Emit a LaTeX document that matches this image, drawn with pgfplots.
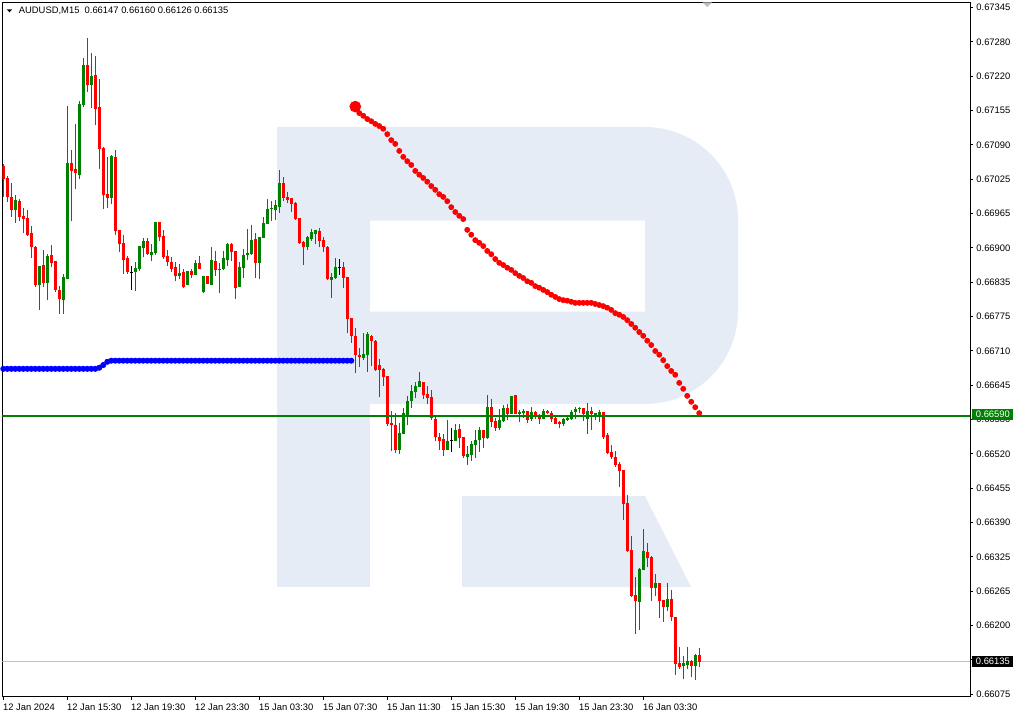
\documentclass[border=0pt]{standalone}
\usepackage{pgfplots}
\usepackage{pgfplotstable}
\pgfplotsset{compat=1.18}
\usepackage{fontspec}
\setmainfont{Liberation Sans}
\definecolor{cgreen}{RGB}{0,128,0}
\definecolor{cred}{RGB}{255,0,0}
\definecolor{cblue}{RGB}{0,0,255}
\definecolor{wm}{RGB}{230,236,245}
\definecolor{cgray}{RGB}{192,192,192}

\pgfplotstableread{
k O H L C
3 0.66971 0.66998 0.66947 0.66989
9 0.66832 0.66867 0.66786 0.66867
11 0.66836 0.66889 0.66804 0.66886
15 0.66804 0.66852 0.66778 0.66847
16 0.66843 0.67163 0.66843 0.67058
19 0.67036 0.67172 0.67028 0.67167
20 0.67165 0.67252 0.67161 0.67239
22 0.67202 0.67261 0.67159 0.67219
27 0.66993 0.67073 0.66982 0.67071
33 0.66856 0.66875 0.66821 0.66863
34 0.66862 0.66904 0.66858 0.66904
35 0.66900 0.66919 0.66884 0.66913
37 0.66888 0.66908 0.66876 0.66893
38 0.66891 0.66949 0.66888 0.66949
44 0.66849 0.66871 0.66843 0.66854
46 0.66832 0.66858 0.66832 0.66858
48 0.66851 0.66878 0.66851 0.66873
50 0.66819 0.66849 0.66817 0.66849
52 0.66832 0.66902 0.66832 0.66878
54 0.66860 0.66873 0.66817 0.66862
55 0.66862 0.66895 0.66860 0.66882
56 0.66878 0.66910 0.66867 0.66908
59 0.66828 0.66875 0.66828 0.66865
60 0.66863 0.66899 0.66845 0.66888
61 0.66888 0.66936 0.66878 0.66891
62 0.66889 0.66943 0.66888 0.66915
64 0.66873 0.66921 0.66843 0.66921
65 0.66919 0.66958 0.66919 0.66947
66 0.66945 0.66991 0.66945 0.66973
67 0.66972 0.66987 0.66950 0.66974
68 0.66971 0.66989 0.66952 0.66980
69 0.66976 0.67045 0.66965 0.67021
76 0.66902 0.66923 0.66897 0.66921
77 0.66917 0.66936 0.66913 0.66930
78 0.66926 0.66934 0.66908 0.66934
82 0.66841 0.66854 0.66808 0.66847
83 0.66845 0.66882 0.66843 0.66865
90 0.66697 0.66743 0.66693 0.66704
91 0.66703 0.66745 0.66671 0.66741
99 0.66527 0.66577 0.66520 0.66558
100 0.66557 0.66605 0.66557 0.66595
101 0.66592 0.66627 0.66573 0.66618
102 0.66618 0.66647 0.66605 0.66636
103 0.66634 0.66653 0.66623 0.66645
104 0.66643 0.66671 0.66643 0.66655
111 0.66527 0.66582 0.66527 0.66544
113 0.66544 0.66575 0.66544 0.66564
116 0.66514 0.66534 0.66499 0.66520
117 0.66518 0.66544 0.66507 0.66538
118 0.66536 0.66564 0.66512 0.66545
119 0.66545 0.66569 0.66523 0.66564
121 0.66549 0.66629 0.66547 0.66606
124 0.66568 0.66603 0.66564 0.66582
125 0.66581 0.66610 0.66579 0.66605
127 0.66593 0.66627 0.66593 0.66627
129 0.66593 0.66601 0.66579 0.66597
130 0.66595 0.66603 0.66586 0.66599
132 0.66584 0.66606 0.66581 0.66597
135 0.66584 0.66603 0.66584 0.66599
140 0.66575 0.66586 0.66571 0.66584
141 0.66582 0.66588 0.66581 0.66586
142 0.66584 0.66601 0.66582 0.66597
143 0.66597 0.66606 0.66584 0.66603
144 0.66603 0.66606 0.66595 0.66605
146 0.66584 0.66614 0.66557 0.66599
148 0.66592 0.66595 0.66582 0.66595
149 0.66592 0.66601 0.66579 0.66597
159 0.66246 0.66309 0.66194 0.66307
160 0.66305 0.66381 0.66305 0.66340
163 0.66272 0.66298 0.66257 0.66281
166 0.66237 0.66281 0.66229 0.66251
170 0.66127 0.66146 0.66103 0.66133
171 0.66129 0.66163 0.66122 0.66137
173 0.66127 0.66150 0.66101 0.66148
}\upc

\pgfplotstableread{
k O H L C
0 0.67052 0.67056 0.66995 0.67028
1 0.67030 0.67034 0.66986 0.66995
2 0.66995 0.67021 0.66958 0.66971
4 0.66987 0.66991 0.66950 0.66958
5 0.66960 0.66974 0.66928 0.66954
6 0.66956 0.66971 0.66923 0.66925
7 0.66928 0.66941 0.66882 0.66902
8 0.66902 0.66904 0.66828 0.66832
10 0.66869 0.66897 0.66828 0.66836
12 0.66888 0.66906 0.66865 0.66873
13 0.66876 0.66876 0.66819 0.66823
14 0.66823 0.66830 0.66778 0.66806
17 0.67058 0.67082 0.66950 0.67043
18 0.67047 0.67130 0.67010 0.67039
21 0.67239 0.67289 0.67189 0.67202
23 0.67220 0.67256 0.67128 0.67158
24 0.67161 0.67213 0.67047 0.67084
25 0.67085 0.67087 0.66973 0.66998
26 0.67000 0.67069 0.66974 0.66993
28 0.67069 0.67082 0.66925 0.66932
29 0.66934 0.66934 0.66893 0.66908
30 0.66910 0.66925 0.66852 0.66878
31 0.66882 0.66886 0.66852 0.66856
36 0.66913 0.66919 0.66888 0.66889
39 0.66949 0.66949 0.66913 0.66921
40 0.66923 0.66934 0.66880 0.66884
41 0.66886 0.66897 0.66867 0.66875
42 0.66875 0.66884 0.66856 0.66862
43 0.66865 0.66875 0.66839 0.66849
45 0.66856 0.66862 0.66826 0.66828
47 0.66858 0.66862 0.66845 0.66851
49 0.66873 0.66886 0.66862 0.66862
51 0.66849 0.66849 0.66834 0.66834
53 0.66876 0.66895 0.66849 0.66860
57 0.66908 0.66910 0.66876 0.66893
58 0.66895 0.66895 0.66806 0.66826
63 0.66917 0.66928 0.66845 0.66873
70 0.67021 0.67032 0.66987 0.66993
71 0.66995 0.67004 0.66984 0.66989
72 0.66993 0.66993 0.66967 0.66982
73 0.66984 0.66986 0.66952 0.66954
74 0.66956 0.66956 0.66908 0.66910
75 0.66912 0.66913 0.66869 0.66902
79 0.66932 0.66938 0.66902 0.66913
80 0.66915 0.66921 0.66893 0.66902
81 0.66902 0.66904 0.66841 0.66843
85 0.66865 0.66875 0.66826 0.66845
86 0.66847 0.66847 0.66743 0.66769
87 0.66771 0.66771 0.66725 0.66738
88 0.66738 0.66753 0.66669 0.66703
89 0.66703 0.66716 0.66680 0.66699
92 0.66738 0.66740 0.66682 0.66728
93 0.66728 0.66730 0.66673 0.66675
94 0.66684 0.66695 0.66625 0.66675
95 0.66677 0.66679 0.66645 0.66662
96 0.66664 0.66664 0.66571 0.66575
97 0.66577 0.66599 0.66525 0.66573
98 0.66573 0.66595 0.66521 0.66527
105 0.66653 0.66653 0.66621 0.66629
106 0.66630 0.66645 0.66612 0.66623
107 0.66625 0.66638 0.66582 0.66586
108 0.66584 0.66590 0.66544 0.66551
109 0.66551 0.66558 0.66527 0.66544
110 0.66547 0.66557 0.66516 0.66527
114 0.66566 0.66575 0.66531 0.66549
115 0.66551 0.66551 0.66512 0.66516
120 0.66564 0.66564 0.66531 0.66549
122 0.66606 0.66621 0.66569 0.66579
123 0.66581 0.66586 0.66562 0.66568
126 0.66605 0.66612 0.66582 0.66593
128 0.66629 0.66629 0.66593 0.66593
131 0.66599 0.66599 0.66577 0.66582
133 0.66597 0.66599 0.66584 0.66588
134 0.66590 0.66593 0.66575 0.66584
136 0.66599 0.66601 0.66593 0.66595
137 0.66595 0.66599 0.66579 0.66584
138 0.66586 0.66588 0.66575 0.66575
139 0.66579 0.66581 0.66568 0.66575
145 0.66605 0.66605 0.66581 0.66593
147 0.66599 0.66606 0.66564 0.66593
150 0.66597 0.66597 0.66547 0.66551
151 0.66555 0.66558 0.66520 0.66521
152 0.66523 0.66536 0.66510 0.66514
153 0.66514 0.66525 0.66495 0.66499
154 0.66501 0.66505 0.66458 0.66488
155 0.66490 0.66490 0.66397 0.66427
156 0.66429 0.66444 0.66338 0.66340
157 0.66342 0.66368 0.66255 0.66257
158 0.66259 0.66292 0.66187 0.66248
161 0.66338 0.66355 0.66310 0.66327
162 0.66329 0.66331 0.66248 0.66272
164 0.66281 0.66281 0.66216 0.66248
165 0.66249 0.66249 0.66209 0.66237
167 0.66251 0.66268 0.66211 0.66218
168 0.66218 0.66218 0.66111 0.66131
169 0.66133 0.66163 0.66122 0.66126
172 0.66137 0.66139 0.66107 0.66127
174 0.66147 0.66160 0.66126 0.66135
}\downc

\pgfplotstableread{
k O H L C
32 0.66857 0.66867 0.66823 0.66856
84 0.66866 0.66880 0.66851 0.66865
112 0.66545 0.66568 0.66523 0.66544
}\dojic

\pgfplotstableread{
k P
89 0.67150
90 0.67145
91 0.67139
92 0.67135
93 0.67130
94 0.67126
95 0.67121
96 0.67111
97 0.67100
98 0.67093
99 0.67080
100 0.67069
101 0.67061
102 0.67054
103 0.67043
104 0.67036
105 0.67030
106 0.67023
107 0.67015
108 0.67008
109 0.67000
110 0.66995
111 0.66987
112 0.66976
113 0.66967
114 0.66960
115 0.66954
116 0.66934
117 0.66925
118 0.66915
119 0.66910
120 0.66904
121 0.66895
122 0.66889
123 0.66880
124 0.66873
125 0.66869
126 0.66864
127 0.66860
128 0.66854
129 0.66849
130 0.66845
131 0.66839
132 0.66836
133 0.66830
134 0.66827
135 0.66823
136 0.66819
137 0.66814
138 0.66810
139 0.66806
140 0.66804
141 0.66803
142 0.66801
143 0.66799
144 0.66799
145 0.66799
146 0.66799
147 0.66799
148 0.66797
149 0.66795
150 0.66793
151 0.66790
152 0.66786
153 0.66780
154 0.66777
155 0.66773
156 0.66767
157 0.66760
158 0.66753
159 0.66745
160 0.66738
161 0.66729
162 0.66721
163 0.66710
164 0.66703
165 0.66693
166 0.66682
167 0.66673
168 0.66666
169 0.66651
170 0.66640
171 0.66627
172 0.66616
173 0.66606
174 0.66595
}\fcast

\pgfplotsset{
  candle/.style 2 args={forget plot, draw=none, mark=none,
    error bars/.cd, y dir=plus, y explicit, error mark=none,
    error bar style={line width=#1, draw=#2, solid}},
}

\begin{document}
\begin{tikzpicture}
% watermark logo (background decoration), pixel coordinates
\begin{scope}[shift={(-1.15pt,348.35pt)}, x=0.5pt, y=-0.5pt]
  \fill[wm, even odd rule] (277,127) -- (645,127) arc[start angle=90, end angle=0, radius=46.5pt] -- (738,311) arc[start angle=0, end angle=-90, radius=46.5pt] -- (277,404) -- cycle
     (370,220.7) rectangle (645,311.7);
  \fill[wm] (277,390) rectangle (370,587);
  \fill[wm] (462,496) -- (645,496) -- (691,587) -- (462,587) -- cycle;
\end{scope}

\begin{axis}[
  name=ax,
  scale only axis, width=483.85pt, height=347.2pt,
  xmin=-0.25, xmax=241.7, ymin=0.660706, ymax=0.673549,
  axis line style={line width=0.5pt, black},
  tick align=outside, major tick length=1.5pt,
  tick style={black, line width=0.5pt},
  xtick pos=lower, xticklabel pos=lower,
  ytick pos=upper, yticklabel pos=upper,
  minor tick num=0,
  xtick={0,16,32,48,64,80,96,112,128,144,160},
  xticklabels={12 Jan 2024, 12 Jan 15:30, 12 Jan 19:30, 12 Jan 23:30, 15 Jan 03:30, 15 Jan 07:30, 15 Jan 11:30, 15 Jan 15:30, 15 Jan 19:30, 15 Jan 23:30, 16 Jan 03:30},
  ytick={0.66075,0.661385,0.66202,0.662655,0.66329,0.663925,0.66456,0.665195,0.66583,0.666465,0.6671,0.667735,0.66837,0.669005,0.66964,0.670275,0.67091,0.671545,0.67218,0.672815,0.67345},
  yticklabels={0.66075,0.66135,0.66200,0.66265,0.66325,0.66390,0.66455,0.66520,0.66580,0.66645,0.66710,0.66775,0.66835,0.66900,0.66965,0.67025,0.67090,0.67155,0.67220,0.67280,0.67345},
  ticklabel style={font=\fontsize{4.7pt}{5pt}\selectfont},
  xticklabel style={anchor=north west, inner sep=0pt, xshift=-0.3pt, yshift=-1.8pt},
  yticklabel style={anchor=west, inner sep=0pt, xshift=1.5pt},
  scaled y ticks=false,
  /pgf/number format/assume math mode=true,
]
% current price line
\addplot[cgray, line width=0.5pt, forget plot] coordinates {(-0.25,0.66135) (241.7,0.66135)};
% blue indicator
\addplot[only marks, mark=*, mark size=1.3pt, color=cblue, forget plot] coordinates {
(0,0.66677)(1,0.66677)(2,0.66677)(3,0.66677)(4,0.66677)(5,0.66677)(6,0.66677)(7,0.66677)(8,0.66677)(9,0.66677)
(10,0.66677)(11,0.66677)(12,0.66677)(13,0.66677)(14,0.66677)(15,0.66677)(16,0.66677)(17,0.66677)(18,0.66677)(19,0.66677)
(20,0.66677)(21,0.66677)(22,0.66677)(23,0.66677)(24,0.66679)(25,0.66684)(26,0.66690)(27,0.66692)(28,0.66692)(29,0.66692)
(30,0.66692)(31,0.66692)(32,0.66692)(33,0.66692)(34,0.66692)(35,0.66692)(36,0.66692)(37,0.66692)(38,0.66692)(39,0.66692)
(40,0.66692)(41,0.66692)(42,0.66692)(43,0.66692)(44,0.66692)(45,0.66692)(46,0.66692)(47,0.66692)(48,0.66692)(49,0.66692)
(50,0.66692)(51,0.66692)(52,0.66692)(53,0.66692)(54,0.66692)(55,0.66692)(56,0.66692)(57,0.66692)(58,0.66692)(59,0.66692)
(60,0.66692)(61,0.66692)(62,0.66692)(63,0.66692)(64,0.66692)(65,0.66692)(66,0.66692)(67,0.66692)(68,0.66692)(69,0.66692)
(70,0.66692)(71,0.66692)(72,0.66692)(73,0.66692)(74,0.66692)(75,0.66692)(76,0.66692)(77,0.66692)(78,0.66692)(79,0.66692)
(80,0.66692)(81,0.66692)(82,0.66692)(83,0.66692)(84,0.66692)(85,0.66692)(86,0.66692)(87,0.66692)};
% candle wicks
\addplot[candle={0.5pt}{cgreen}] table[x=k, y=L, y error plus expr=\thisrow{H}-\thisrow{L}] {\upc};
\addplot[candle={0.5pt}{cred}] table[x=k, y=L, y error plus expr=\thisrow{H}-\thisrow{L}] {\downc};
\addplot[candle={0.5pt}{black}] table[x=k, y=L, y error plus expr=\thisrow{H}-\thisrow{L}] {\dojic};
% candle bodies
\addplot[candle={1.5pt}{cgreen}] table[x=k, y=O, y error plus expr=\thisrow{C}-\thisrow{O}] {\upc};
\addplot[candle={1.5pt}{cred}] table[x=k, y=C, y error plus expr=\thisrow{O}-\thisrow{C}] {\downc};
\addplot[candle={1.5pt}{black}] table[x=k, y=C, y error plus expr=\thisrow{O}-\thisrow{C}] {\dojic};
% green level line
\addplot[cgreen, line width=1pt, forget plot] coordinates {(-0.25,0.66590) (241.7,0.66590)};
% forecast dots
\addplot[only marks, mark=*, mark size=1.25pt, color=cred, forget plot] table[x=k, y=P] {\fcast};
\addplot[only marks, mark=*, mark size=2.7pt, color=cred, forget plot] coordinates {(88,0.67162)};
\end{axis}

\begin{scope}[shift={(-1.15pt,348.35pt)}, x=0.5pt, y=-0.5pt]
  \fill[black] (6.7,9.3) -- (12.3,9.3) -- (9.5,12.3) -- cycle;
  \node[anchor=west, inner sep=0pt, font=\fontsize{4.7pt}{5pt}\selectfont] at (18.5,10.7) {AUDUSD,M15\hspace{2.6pt}0.66147 0.66160 0.66126 0.66135};
  \fill[gray!50] (702.5,2.3) -- (712,2.3) -- (707.2,7.2) -- cycle;
  \node[fill=cgreen, text=white, anchor=west, inner xsep=0pt, inner ysep=0pt, minimum width=20.5pt, minimum height=5.6pt, font=\fontsize{4.7pt}{5pt}\selectfont] at (972,414.3) {0.66590};
  \node[fill=black, text=white, anchor=west, inner xsep=0pt, inner ysep=0pt, minimum width=20.5pt, minimum height=5.6pt, font=\fontsize{4.7pt}{5pt}\selectfont] at (972,661.7) {0.66135};
\end{scope}
\pgfresetboundingbox
\path (-1.15pt,-10.15pt) rectangle (506.35pt,348.35pt);
\end{tikzpicture}
\end{document}
